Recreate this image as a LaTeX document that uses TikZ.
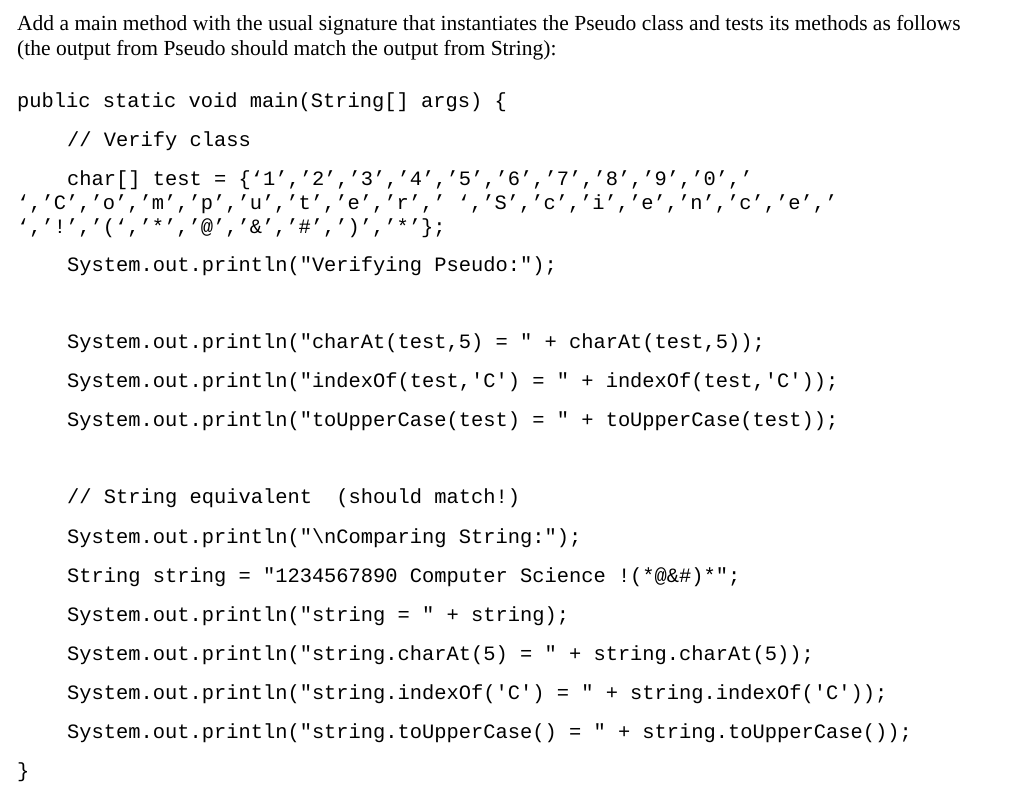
\documentclass[tikz,border=0pt]{standalone}
\usepackage{fontspec}
\setmainfont{Liberation Serif}
\setmonofont{Liberation Mono}
\begin{document}
\begin{tikzpicture}[x=1pt,y=-1pt,
  serif/.style={anchor=west,inner sep=0pt,font=\fontsize{21.5}{24}\selectfont},
  code/.style={anchor=west,inner sep=0pt,font=\ttfamily\fontsize{20.4}{24}\selectfont}]
\useasboundingbox[fill=white] (0,0) rectangle (1024,808);
\node[serif] (t1) at (17,25) {Add a main method with the usual signature that instantiates the Pseudo class and tests its methods as follows};
\node[serif] (t2) at (17,50) {(the output from Pseudo should match the output from String):};
\node[code] (c1) at (17,102) {public static void main(String[] args) \{};
\node[code] (c2) at (67,141) {// Verify class};
\node[code] (c3) at (67,180) {char[] test = \{‘1’,’2’,’3’,’4’,’5’,’6’,’7’,’8’,’9’,’0’,’};
\node[code] (c4) at (17,204) {‘,’C’,’o’,’m’,’p’,’u’,’t’,’e’,’r’,’\ ‘,’S’,’c’,’i’,’e’,’n’,’c’,’e’,’};
\node[code] (c5) at (17,228) {‘,’!’,’(‘,’*’,’@’,’\&’,’\#’,’)’,’*’\};};
\node[code] (c6) at (67,266) {System.out.println("Verifying Pseudo:");};
\node[code] (c7) at (67,343) {System.out.println("charAt(test,5) = " + charAt(test,5));};
\node[code] (c8) at (67,382) {System.out.println("indexOf(test,'C') = " + indexOf(test,'C'));};
\node[code] (c9) at (67,421) {System.out.println("toUpperCase(test) = " + toUpperCase(test));};
\node[code] (c10) at (67,498) {//\ String equivalent\ \ (should match!)};
\node[code] (c11) at (67,538) {System.out.println("\textbackslash nComparing String:");};
\node[code] (c12) at (67,577) {String string = "1234567890 Computer Science !(*@\&\#)*";};
\node[code] (c13) at (67,616) {System.out.println("string = " + string);};
\node[code] (c14) at (67,655) {System.out.println("string.charAt(5) = " + string.charAt(5));};
\node[code] (c15) at (67,694) {System.out.println("string.indexOf('C') = " + string.indexOf('C'));};
\node[code] (c16) at (67,733) {System.out.println("string.toUpperCase() = " + string.toUpperCase());};
\node[code] (c17) at (17,772) {\}};
\end{tikzpicture}
\end{document}
